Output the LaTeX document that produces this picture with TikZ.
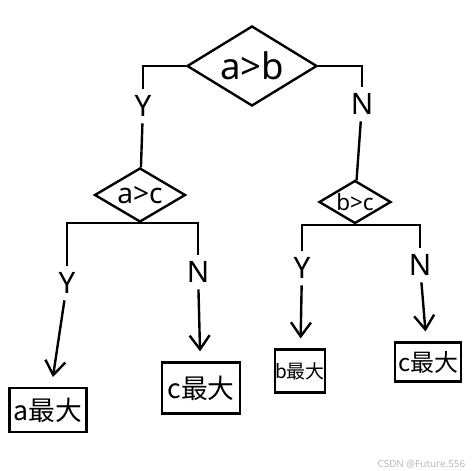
\documentclass[tikz,border=0pt]{standalone}
\usepackage{fontspec}
\setmainfont{Noto Sans}
\newfontfamily\cjk{Noto Sans CJK SC}
\usetikzlibrary{positioning, calc}
\usetikzlibrary{arrows.meta,shapes}

\begin{document}
\begin{tikzpicture}[x=0.025cm,y=-0.025cm,line width=1.7pt]
\definecolor{credit}{RGB}{185,185,185}
\tikzstyle{test}=[draw, shape=diamond, inner sep=0pt]
\tikzstyle{result}=[draw, shape=rectangle, inner sep=0pt]
\tikzstyle{branch}=[inner sep=4pt, font=\fontsize{21}{25}\selectfont]
\tikzstyle{flow}=[-{Straight Barb[length=3.5mm,width=5mm]}, shorten >=7pt]
\useasboundingbox (0,0) rectangle (474,471);
% the three tests
\node [test, shape aspect=1.6, minimum width=3.25cm, minimum height=2cm,
       font=\fontsize{26}{30}\selectfont] (ab) at (252,66) {a>b};
\node [test, shape aspect=1.7, minimum width=2.275cm, minimum height=1.35cm,
       font=\fontsize{20}{24}\selectfont] (ac) at (140,195) {a>c};
\node [test, shape aspect=1.7, minimum width=1.8cm, minimum height=1.075cm,
       font=\fontsize{16}{19}\selectfont] (bc) at (355,202) {b>c};
% branch labels
\node [branch] (y1) at (143,106) {Y};
\node [branch] (n1) at (362,104) {N};
\node [branch] (y2) at (67,283) {Y};
\node [branch] (n2) at (198,272) {N};
\node [branch] (y3) at (302,268) {Y};
\node [branch] (n3) at (420,265) {N};
% results
\node [result, minimum width=1.925cm, minimum height=1.1cm,
       font=\cjk\fontsize{19}{22}\selectfont] (amax) at (48,410) {a最大};
\node [result, minimum width=1.95cm, minimum height=1.275cm,
       font=\cjk\fontsize{19}{22}\selectfont] (cmaxa) at (201,388) {c最大};
\node [result, minimum width=1.25cm, minimum height=1.075cm,
       font=\cjk\fontsize{13.5}{16}\selectfont] (bmax) at (300,371) {b最大};
\node [result, minimum width=1.65cm, minimum height=0.975cm,
       font=\cjk\fontsize{17}{20}\selectfont] (cmaxb) at (428,362) {c最大};
% connectors
\draw (ab.west) -| (y1);
\draw (y1) -- (ac);
\draw (ab.east) -| (n1);
\draw (n1) -- (bc);
\draw (ac.south) -| (y2);
\draw (ac.south) -| (n2);
\draw (bc.south) -| (y3);
\draw (bc.south) -| (n3);
\draw [flow] (y2) -- (amax);
\draw [flow] (n2) -- (cmaxa);
\draw [flow] (y3) -- (bmax);
\draw [flow] (n3) -- (cmaxb);
% watermark
\node [anchor=east, text=credit, font=\fontsize{7}{8}\selectfont] (csdn) at (471,464) {CSDN @Future.556};
\end{tikzpicture}
\end{document}
